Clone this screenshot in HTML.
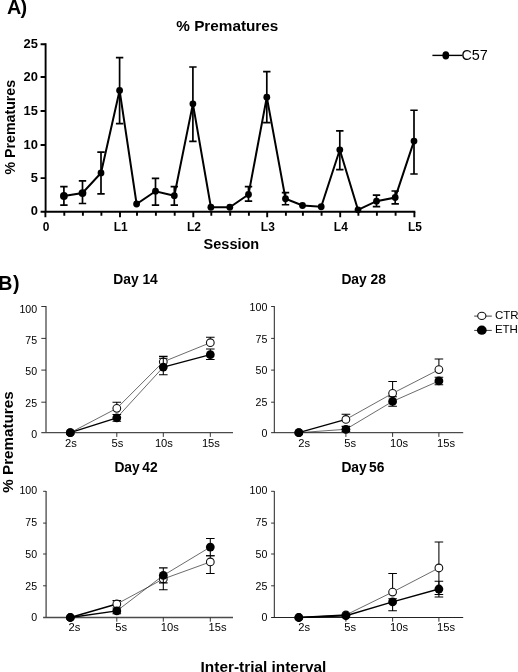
<!DOCTYPE html>
<html><head><meta charset="utf-8"><title>% Prematures</title>
<style>
html,body{margin:0;padding:0;background:#fff;}
body{width:518px;height:672px;overflow:hidden;}
svg{display:block;font-family:"Liberation Sans",Arial,Helvetica,sans-serif;}
.b{font-weight:bold;}
</style></head><body>
<svg width="518" height="672" viewBox="0 0 518 672">
<rect width="518" height="672" fill="#fff"/>

<text class="b" y="13.6" font-size="19.8"><tspan x="6.9">A</tspan><tspan x="20.6">)</tspan></text>
<text class="b" x="176.3" y="31.2" font-size="15.3">% Prematures</text>
<text class="b" transform="translate(14.6,127.2) rotate(-90)" text-anchor="middle" font-size="14.2">% Prematures</text>
<text class="b" x="231.4" y="249.2" text-anchor="middle" font-size="14.5">Session</text>
<g stroke="#000" stroke-width="1.9" fill="none">
<path d="M45.6 43.300000000000004V211.8H415.3"/>
<path d="M40.6 211.8H45.6M40.6 178.1H45.6M40.6 145.0H45.6M40.6 111.0H45.6M40.6 77.0H45.6M40.6 44.2H45.6M45.4 211.8v5.5M64.3 211.8v4M82.9 211.8v4M101.4 211.8v4M120 211.8v5.5M137 211.8v4M155.9 211.8v4M174.7 211.8v4M193.3 211.8v5.5M211.3 211.8v4M230.2 211.8v4M248.9 211.8v4M267.2 211.8v5.5M285.9 211.8v4M302.9 211.8v4M321.6 211.8v4M340.2 211.8v5.5M358.4 211.8v4M376.9 211.8v4M395.6 211.8v4M414.4 211.8v5.5"/>
</g>
<g class="b" font-size="12.9" text-anchor="end">
<text x="37.9" y="215.3">0</text>
<text x="37.9" y="181.6">5</text>
<text x="37.9" y="148.5">10</text>
<text x="37.9" y="114.5">15</text>
<text x="37.9" y="80.5">20</text>
<text x="37.9" y="47.7">25</text>
</g>
<g class="b" font-size="12.6" text-anchor="middle">
<text transform="translate(46,230.6) scale(0.95,1)">0</text>
<text transform="translate(120.6,230.6) scale(0.95,1)">L1</text>
<text transform="translate(193.9,230.6) scale(0.95,1)">L2</text>
<text transform="translate(267.8,230.6) scale(0.95,1)">L3</text>
<text transform="translate(340.8,230.6) scale(0.95,1)">L4</text>
<text transform="translate(415,230.6) scale(0.95,1)">L5</text>
</g>
<polyline points="63.9,195.98 82.5,193.03 101,172.92 119.6,90.46 136.6,204.02 155.5,191.22 174.3,195.71 192.9,103.87 210.9,207.24 229.8,207.24 248.5,194.5 266.8,97.16 285.5,198.73 302.5,205.5 321.2,206.77 339.8,149.79 358,209.79 376.5,201.21 395.2,197.52 414,141.07" fill="none" stroke="#000" stroke-width="2" stroke-linejoin="miter"/>
<path d="M63.9 205.1V186.66M60.2 205.1h7.4M60.2 186.66h7.4M82.5 203.49V180.96M78.8 203.49h7.4M78.8 180.96h7.4M101 193.97V152.13M97.3 193.97h7.4M97.3 152.13h7.4M119.6 123.64V57.61M115.9 123.64h7.4M115.9 57.61h7.4M155.5 205.1V178.28M151.8 205.1h7.4M151.8 178.28h7.4M174.3 205.1V186.66M170.6 205.1h7.4M170.6 186.66h7.4M192.9 141.41V66.99M189.2 141.41h7.4M189.2 66.99h7.4M248.5 201.07V186.66M244.8 201.07h7.4M244.8 186.66h7.4M266.8 122.64V71.69M263.1 122.64h7.4M263.1 71.69h7.4M285.5 204.76V192.69M281.8 204.76h7.4M281.8 192.69h7.4M339.8 169.56V130.95M336.1 169.56h7.4M336.1 130.95h7.4M376.5 206.64V195.04M372.8 206.64h7.4M372.8 195.04h7.4M395.2 203.89V191.02M391.5 203.89h7.4M391.5 191.02h7.4M414 173.99V110.23M410.3 173.99h7.4M410.3 110.23h7.4" stroke="#000" stroke-width="1.7" fill="none"/>
<g fill="#000">
<circle cx="63.9" cy="195.98" r="3.9"/>
<circle cx="82.5" cy="193.03" r="3.9"/>
<circle cx="101" cy="172.92" r="3.4"/>
<circle cx="119.6" cy="90.46" r="3.4"/>
<circle cx="136.6" cy="204.02" r="3.4"/>
<circle cx="155.5" cy="191.22" r="3.4"/>
<circle cx="174.3" cy="195.71" r="3.4"/>
<circle cx="192.9" cy="103.87" r="3.4"/>
<circle cx="210.9" cy="207.24" r="3.4"/>
<circle cx="229.8" cy="207.24" r="3.4"/>
<circle cx="248.5" cy="194.5" r="3.4"/>
<circle cx="266.8" cy="97.16" r="3.4"/>
<circle cx="285.5" cy="198.73" r="3.4"/>
<circle cx="302.5" cy="205.5" r="3.4"/>
<circle cx="321.2" cy="206.77" r="3.4"/>
<circle cx="339.8" cy="149.79" r="3.4"/>
<circle cx="358" cy="209.79" r="3.4"/>
<circle cx="376.5" cy="201.21" r="3.4"/>
<circle cx="395.2" cy="197.52" r="3.4"/>
<circle cx="414" cy="141.07" r="3.4"/>
</g>
<path d="M432.4 55.4H462.4" stroke="#000" stroke-width="1.4"/><ellipse cx="445.8" cy="55.4" rx="3.4" ry="4.1"/>
<text x="461.4" y="60.2" font-size="14.4">C57</text>
<text class="b" y="289.9" font-size="19.6"><tspan x="-1.8">B</tspan><tspan x="13">)</tspan></text>
<text class="b" transform="translate(13.3,442) rotate(-90)" text-anchor="middle" font-size="15.2">% Prematures</text>
<text class="b" x="200.6" y="672.4" font-size="15.4">Inter-trial interval</text>
<text class="b" x="113.3" y="283.5" font-size="13.8" style="word-spacing:0px">Day 14</text>
<g stroke="#4a4a4a" fill="none">
<path stroke-width="1.3" d="M46.0 306.1V432.7M41.3 432.7H233"/>
<path stroke-width="0.95" stroke="#2a2a2a" d="M41.3 402.2H46.0M41.3 370.1H46.0M41.3 338.4H46.0M41.3 306.5H46.0M70.3 432.7v4.2M116.8 432.7v4.2M163.3 432.7v4.2M210.3 432.7v4.2"/></g>
<g font-size="10.6" text-anchor="end" fill="#000">
<text x="37.1" y="438.2">0</text>
<text x="37.1" y="407.1">25</text>
<text x="37.1" y="375.4">50</text>
<text x="37.1" y="344.2">75</text>
<text x="37.1" y="312.9">100</text>
</g>
<g font-size="11.2" text-anchor="middle" fill="#000">
<text x="70.9" y="447.3">2s</text>
<text x="117.4" y="447.3">5s</text>
<text x="163.9" y="447.3">10s</text>
<text x="210.9" y="447.3">15s</text>
</g>
<path d="M116.8 408.34V402.16M112.5 402.16h8.6M163.3 361.78V356.35M159 356.35h8.6M210.3 342.72V337.17M206 337.17h8.6" stroke="#000" stroke-width="1.05" fill="none"/>
<path d="M70.3 432.7L116.8 408.34" stroke="#1a1a1a" stroke-width="0.65" fill="none"/>
<path d="M116.8 408.34L163.3 361.78" stroke="#1a1a1a" stroke-width="0.65" fill="none"/>
<path d="M163.3 361.78L210.3 342.72" stroke="#1a1a1a" stroke-width="0.65" fill="none"/>
<circle cx="70.3" cy="432.7" r="3.85" fill="#fff" stroke="#111" stroke-width="1.1"/>
<circle cx="116.8" cy="408.34" r="3.85" fill="#fff" stroke="#111" stroke-width="1.1"/>
<circle cx="163.3" cy="361.78" r="3.85" fill="#fff" stroke="#111" stroke-width="1.1"/>
<circle cx="210.3" cy="342.72" r="3.85" fill="#fff" stroke="#111" stroke-width="1.1"/>
<path d="M116.8 421.34V414.4M112.5 421.34h8.6M112.5 414.4h8.6M163.3 374.65V358.24M159 374.65h8.6M159 358.24h8.6M210.3 359.5V349.03M206 359.5h8.6M206 349.03h8.6" stroke="#000" stroke-width="1.05" fill="none"/>
<path d="M70.3 432.7L116.8 417.81" stroke="#000" stroke-width="1.35" fill="none"/>
<path d="M116.8 417.81L163.3 367.08" stroke="#1a1a1a" stroke-width="0.65" fill="none"/>
<path d="M163.3 367.08L210.3 354.71" stroke="#000" stroke-width="1.35" fill="none"/>
<circle cx="70.3" cy="432.7" r="4.4" fill="#000"/>
<circle cx="116.8" cy="417.81" r="4.4" fill="#000"/>
<circle cx="163.3" cy="367.08" r="4.4" fill="#000"/>
<circle cx="210.3" cy="354.71" r="4.4" fill="#000"/>
<text class="b" x="341.4" y="283.5" font-size="13.8" style="word-spacing:0px">Day 28</text>
<g stroke="#222" fill="none">
<path stroke-width="1.0" d="M274.3 306.1V432.7M271.1 432.7H463.2"/>
<path stroke-width="0.95" stroke="#2a2a2a" d="M271.1 402.2H274.3M271.1 370.1H274.3M271.1 338.4H274.3M271.1 306.5H274.3M298.8 432.7v4.2M345.9 432.7v4.2M392.6 432.7v4.2M438.9 432.7v4.2"/></g>
<g font-size="10.6" text-anchor="end" fill="#000">
<text x="267.3" y="437.2">0</text>
<text x="267.3" y="405.8">25</text>
<text x="267.3" y="374.3">50</text>
<text x="267.3" y="342.8">75</text>
<text x="267.3" y="311.2">100</text>
</g>
<g font-size="11.2" fill="#000">
<text x="298.2" y="447.3">2s</text>
<text x="344.3" y="447.3">5s</text>
<text x="390" y="447.3">10s</text>
<text x="437.1" y="447.3">15s</text>
</g>
<path d="M345.9 419.45V414.15M341.6 414.15h8.6M392.6 393.33V381.59M388.3 381.59h8.6M438.9 369.6V359M434.6 359h8.6" stroke="#000" stroke-width="1.05" fill="none"/>
<path d="M298.8 432.7L345.9 419.45" stroke="#000" stroke-width="1.35" fill="none"/>
<path d="M345.9 419.45L392.6 393.33" stroke="#1a1a1a" stroke-width="0.65" fill="none"/>
<path d="M392.6 393.33L438.9 369.6" stroke="#1a1a1a" stroke-width="0.65" fill="none"/>
<circle cx="298.8" cy="432.7" r="3.85" fill="#fff" stroke="#111" stroke-width="1.1"/>
<circle cx="345.9" cy="419.45" r="3.85" fill="#fff" stroke="#111" stroke-width="1.1"/>
<circle cx="392.6" cy="393.33" r="3.85" fill="#fff" stroke="#111" stroke-width="1.1"/>
<circle cx="438.9" cy="369.6" r="3.85" fill="#fff" stroke="#111" stroke-width="1.1"/>
<path d="M345.9 431.44V426.39M341.6 431.44h8.6M341.6 426.39h8.6M392.6 406.2V396.73M388.3 406.2h8.6M388.3 396.73h8.6M438.9 384.74V377.17M434.6 384.74h8.6M434.6 377.17h8.6" stroke="#000" stroke-width="1.05" fill="none"/>
<path d="M298.8 432.7L345.9 429.29" stroke="#1a1a1a" stroke-width="0.65" fill="none"/>
<path d="M345.9 429.29L392.6 401.4" stroke="#1a1a1a" stroke-width="0.65" fill="none"/>
<path d="M392.6 401.4L438.9 380.96" stroke="#1a1a1a" stroke-width="0.65" fill="none"/>
<circle cx="298.8" cy="432.7" r="4.4" fill="#000"/>
<circle cx="345.9" cy="429.29" r="4.4" fill="#000"/>
<circle cx="392.6" cy="401.4" r="4.4" fill="#000"/>
<circle cx="438.9" cy="380.96" r="4.4" fill="#000"/>
<text class="b" x="114.4" y="471.8" font-size="13.8" style="word-spacing:-1.2px">Day 42</text>
<g stroke="#4a4a4a" fill="none">
<path stroke-width="1.3" d="M46.1 491.1V617.5M43.1 617.5H233"/>
<path stroke-width="0.95" stroke="#2a2a2a" d="M43.1 585.8H46.1M43.1 554.0H46.1M43.1 523.1H46.1M43.1 491.3H46.1M70.3 617.5v4.2M116.8 617.5v4.2M163.3 617.5v4.2M210.3 617.5v4.2"/></g>
<g font-size="10.6" text-anchor="end" fill="#000">
<text x="37.1" y="620.8">0</text>
<text x="37.1" y="590.4">25</text>
<text x="37.1" y="558.2">50</text>
<text x="37.1" y="526.1">75</text>
<text x="37.1" y="494.1">100</text>
</g>
<g font-size="11.2" fill="#000">
<text x="68.5" y="630.5">2s</text>
<text x="115.2" y="630.5">5s</text>
<text x="160.7" y="630.5">10s</text>
<text x="208.5" y="630.5">15s</text>
</g>
<path d="M116.8 604.02V600.62M112.5 600.62h8.6M163.3 589.78V578.94M159 589.78h8.6M210.3 573.4V555.76M206 573.4h8.6M206 555.76h8.6" stroke="#000" stroke-width="1.05" fill="none"/>
<path d="M70.3 617.5L116.8 604.02" stroke="#000" stroke-width="1.35" fill="none"/>
<path d="M116.8 604.02L163.3 578.94" stroke="#1a1a1a" stroke-width="0.65" fill="none"/>
<path d="M163.3 578.94L210.3 561.93" stroke="#1a1a1a" stroke-width="0.65" fill="none"/>
<circle cx="70.3" cy="617.5" r="3.85" fill="#fff" stroke="#111" stroke-width="1.1"/>
<circle cx="116.8" cy="604.02" r="3.85" fill="#fff" stroke="#111" stroke-width="1.1"/>
<circle cx="163.3" cy="578.94" r="3.85" fill="#fff" stroke="#111" stroke-width="1.1"/>
<circle cx="210.3" cy="561.93" r="3.85" fill="#fff" stroke="#111" stroke-width="1.1"/>
<path d="M116.8 613.72V608.05M112.5 613.72h8.6M112.5 608.05h8.6M163.3 582.85V567.86M159 582.85h8.6M159 567.86h8.6M210.3 555.76V538.5M206 555.76h8.6M206 538.5h8.6" stroke="#000" stroke-width="1.05" fill="none"/>
<path d="M70.3 617.5L116.8 610.95" stroke="#000" stroke-width="1.35" fill="none"/>
<path d="M116.8 610.95L163.3 575.42" stroke="#1a1a1a" stroke-width="0.65" fill="none"/>
<path d="M163.3 575.42L210.3 547.07" stroke="#1a1a1a" stroke-width="0.65" fill="none"/>
<circle cx="70.3" cy="617.5" r="4.4" fill="#000"/>
<circle cx="116.8" cy="610.95" r="4.4" fill="#000"/>
<circle cx="163.3" cy="575.42" r="4.4" fill="#000"/>
<circle cx="210.3" cy="547.07" r="4.4" fill="#000"/>
<text class="b" x="341.4" y="472.2" font-size="13.8" style="word-spacing:-1.5px">Day 56</text>
<g stroke="#222" fill="none">
<path stroke-width="1.0" d="M274.3 491.1V617.5M271.1 617.5H463.2"/>
<path stroke-width="0.95" stroke="#2a2a2a" d="M271.1 585.8H274.3M271.1 554.0H274.3M271.1 523.1H274.3M271.1 491.3H274.3M298.8 617.5v4.2M345.9 617.5v4.2M392.6 617.5v4.2M438.9 617.5v4.2"/></g>
<g font-size="10.6" text-anchor="end" fill="#000">
<text x="267.3" y="620.8">0</text>
<text x="267.3" y="590.4">25</text>
<text x="267.3" y="558.2">50</text>
<text x="267.3" y="526.2">75</text>
<text x="267.3" y="494.4">100</text>
</g>
<g font-size="11.2" fill="#000">
<text x="298.2" y="630.5">2s</text>
<text x="344.3" y="630.5">5s</text>
<text x="390" y="630.5">10s</text>
<text x="437.1" y="630.5">15s</text>
</g>
<path d="M392.6 592.05V573.4M388.3 573.4h8.6M438.9 594.44V541.9M434.6 594.44h8.6M434.6 541.9h8.6" stroke="#000" stroke-width="1.05" fill="none"/>
<path d="M298.8 617.5L345.9 614.98" stroke="#000" stroke-width="1.35" fill="none"/>
<path d="M345.9 614.98L392.6 592.05" stroke="#1a1a1a" stroke-width="0.65" fill="none"/>
<path d="M392.6 592.05L438.9 567.98" stroke="#1a1a1a" stroke-width="0.65" fill="none"/>
<circle cx="298.8" cy="617.5" r="3.85" fill="#fff" stroke="#111" stroke-width="1.1"/>
<circle cx="345.9" cy="614.98" r="3.85" fill="#fff" stroke="#111" stroke-width="1.1"/>
<circle cx="392.6" cy="592.05" r="3.85" fill="#fff" stroke="#111" stroke-width="1.1"/>
<circle cx="438.9" cy="567.98" r="3.85" fill="#fff" stroke="#111" stroke-width="1.1"/>
<path d="M392.6 610.82V598.73M388.3 610.82h8.6M388.3 598.73h8.6M438.9 596.96V581.34M434.6 596.96h8.6M434.6 581.34h8.6" stroke="#000" stroke-width="1.05" fill="none"/>
<path d="M298.8 617.5L345.9 615.74" stroke="#000" stroke-width="1.35" fill="none"/>
<path d="M345.9 615.74L392.6 601.88" stroke="#000" stroke-width="1.35" fill="none"/>
<path d="M392.6 601.88L438.9 589.02" stroke="#000" stroke-width="1.35" fill="none"/>
<circle cx="298.8" cy="617.5" r="4.4" fill="#000"/>
<circle cx="345.9" cy="615.74" r="4.4" fill="#000"/>
<circle cx="392.6" cy="601.88" r="4.4" fill="#000"/>
<circle cx="438.9" cy="589.02" r="4.4" fill="#000"/>
<path d="M474.2 316.1H491.8M474.2 330.4H491.8" stroke="#111" stroke-width="0.8"/>
<ellipse cx="481.8" cy="315.9" rx="4.1" ry="3.6" fill="#fff" stroke="#111" stroke-width="1.1"/>
<ellipse cx="481.8" cy="330.2" rx="4.9" ry="4.6" fill="#000"/>
<text x="494.9" y="319" font-size="11.5" fill="#000">CTR</text>
<text x="494.9" y="333.4" font-size="11.5" fill="#000">ETH</text>
</svg></body></html>
